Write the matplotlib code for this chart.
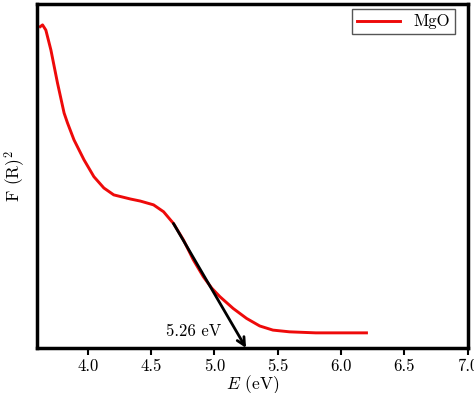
import matplotlib
matplotlib.use("Agg")
import matplotlib.pyplot as plt

plt.rcParams['font.family'] = ['cmr10', 'DejaVu Serif']
plt.rcParams['mathtext.fontset'] = 'cm'
plt.rcParams['axes.formatter.use_mathtext'] = True

energy = [3.626, 3.644, 3.670, 3.710, 3.762, 3.814, 3.841, 3.892, 3.971, 4.049,
          4.128, 4.206, 4.338, 4.416, 4.520, 4.599, 4.677, 4.756, 4.834, 4.913,
          4.979, 5.044, 5.148, 5.254, 5.358, 5.462, 5.593, 5.800, 6.000, 6.200]
fr2 = [0.934, 0.939, 0.924, 0.866, 0.770, 0.683, 0.654, 0.605, 0.547, 0.498,
       0.465, 0.445, 0.433, 0.427, 0.416, 0.396, 0.362, 0.314, 0.256, 0.207,
       0.174, 0.149, 0.115, 0.086, 0.064, 0.052, 0.047, 0.044, 0.044, 0.044]

fit_start = (4.677, 0.362)
band_gap_tip = 5.25
band_gap_label = "5.26 eV"
xticks = [4.0, 4.5, 5.0, 5.5, 6.0, 6.5, 7.0]

fig = plt.figure(figsize=(4.74, 3.93), dpi=100)
ax = fig.add_axes([0.078, 0.1145, 0.909, 0.8755])

ax.plot(energy, fr2, color='#ee0a0a', lw=2.1, label='MgO', solid_joinstyle='round')
ax.annotate('', xy=(band_gap_tip, 0.0), xytext=fit_start,
            arrowprops=dict(arrowstyle='->', color='black', lw=2.0,
                            mutation_scale=14, shrinkA=0, shrinkB=0))
ax.text(4.834, 0.047, band_gap_label, ha='center', va='center', fontsize=12)

ax.set_xlim(3.6, 7.0)
ax.set_ylim(0, 1)
ax.set_xticks(xticks)
ax.set_xticklabels([f"{t:.1f}" for t in xticks])
ax.set_yticks([])
ax.tick_params(axis='x', direction='out', length=5, width=1.5, labelsize=12, pad=3)
for s in ax.spines.values():
    s.set_linewidth(2.5)

ax.set_xlabel(r'$E$ (eV)', fontsize=12.5, labelpad=-0.5)
ax.set_ylabel(r'F (R)$^2$', fontsize=12.5, labelpad=7)

leg = ax.legend(loc='upper right', bbox_to_anchor=(0.970, 0.985), borderaxespad=0,
                fontsize=12, fancybox=False, framealpha=1,
                edgecolor='#555555', handlelength=2.6, borderpad=0.3)
leg.get_frame().set_linewidth(1.0)

fig.savefig('out.png', dpi=100)
